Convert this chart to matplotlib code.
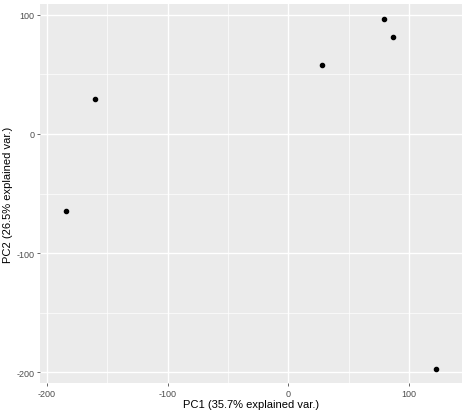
import matplotlib
matplotlib.use("Agg")
import matplotlib.pyplot as plt

plt.rcParams["font.family"] = ["Liberation Sans", "DejaVu Sans"]
plt.rcParams["axes.unicode_minus"] = False

pc1 = [-184, -160, 28, 79, 87, 122]
pc2 = [-64.7, 29.4, 58, 96, 81.5, -197.5]
x_ticks = [-200, -100, 0, 100]
y_ticks = [-200, -100, 0, 100]

fig = plt.figure(figsize=(4.74, 4.14), dpi=100)
ax = fig.add_axes([0.084, 0.072, 0.891, 0.916])
ax.set_facecolor("#EBEBEB")
for s in ax.spines.values():
    s.set_visible(False)

ax.set_xlim(-206, 144)
ax.set_ylim(-209, 109)
ax.set_xticks(x_ticks)
ax.set_yticks(y_ticks)
ax.set_xticks([-150, -50, 50], minor=True)
ax.set_yticks([-150, -50, 50], minor=True)
ax.grid(True, which="major", color="white", linewidth=1.0)
ax.grid(True, which="minor", color="white", linewidth=0.5)
ax.set_axisbelow(True)
ax.tick_params(which="major", labelsize=6.5, colors="#4D4D4D", length=2.5, width=0.6, pad=1.5)
ax.tick_params(which="minor", length=0)

ax.scatter(pc1, pc2, s=9, color="black", zorder=3)
ax.set_xlabel("PC1 (35.7% explained var.)", fontsize=8, labelpad=1)
ax.set_ylabel("PC2 (26.5% explained var.)", fontsize=8, labelpad=2)

fig.savefig("out.png", dpi=100)
